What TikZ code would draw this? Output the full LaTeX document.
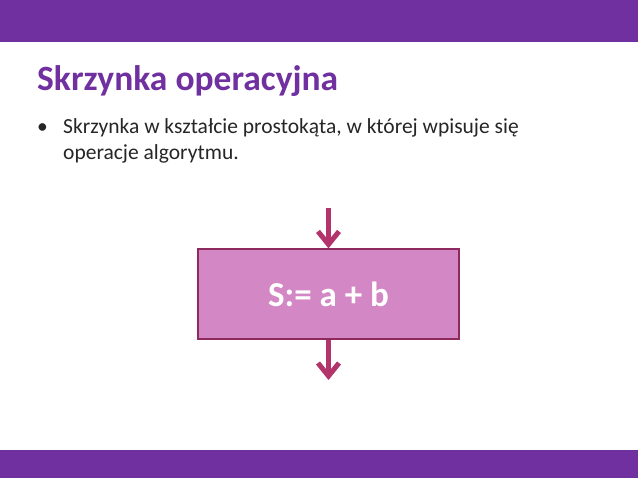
\documentclass[tikz,border=0pt]{standalone}
\usepackage{fontspec}
\setmainfont{Carlito}
\usetikzlibrary{arrows.meta}
\definecolor{barpurple}{HTML}{7030A0}
\definecolor{boxfill}{HTML}{D387C4}
\definecolor{boxedge}{HTML}{8E2A5E}
\definecolor{arrowcol}{HTML}{B3336B}
\definecolor{textgray}{HTML}{262626}
\tikzset{
  flowarrow/.style={draw=arrowcol,line width=5pt,-{Straight Barb[length=13pt,width=21pt,line width=5pt]}},
  opbox/.style={draw=boxedge,line width=1.2pt,fill=boxfill,minimum width=261pt,minimum height=90pt,inner sep=0pt,text=white,font=\bfseries\fontsize{35}{40}\selectfont},
  bodytext/.style={anchor=base west,inner sep=0pt,text=textgray,font=\fontsize{21.5}{26}\selectfont}
}
\begin{document}
\begin{tikzpicture}[x=1pt,y=-1pt]
\useasboundingbox (0,0) rectangle (638,478);
\fill[white] (0,0) rectangle (638,478);
\fill[barpurple] (0,0) rectangle (638,42);
\fill[barpurple] (0,450) rectangle (638,478);
\node[anchor=base west,inner sep=0pt,text=barpurple,font=\bfseries\fontsize{35.5}{40}\selectfont] (title) at (37,91) {Skrzynka operacyjna};
\node[bodytext] (bullet) at (37,134) {•};
\node[bodytext] (line1) at (63,134) {Skrzynka w kształcie prostokąta, w której wpisuje się};
\node[bodytext] (line2) at (63,160) {operacje algorytmu.};
\node[opbox] (box) at (328.5,294) {S:= a + b};
\coordinate (top) at (328.5,208);
\coordinate (bot) at (328.5,380);
\draw[flowarrow] (top) -- (box.north);
\draw[flowarrow] (box.south) -- (bot);
\end{tikzpicture}
\end{document}
